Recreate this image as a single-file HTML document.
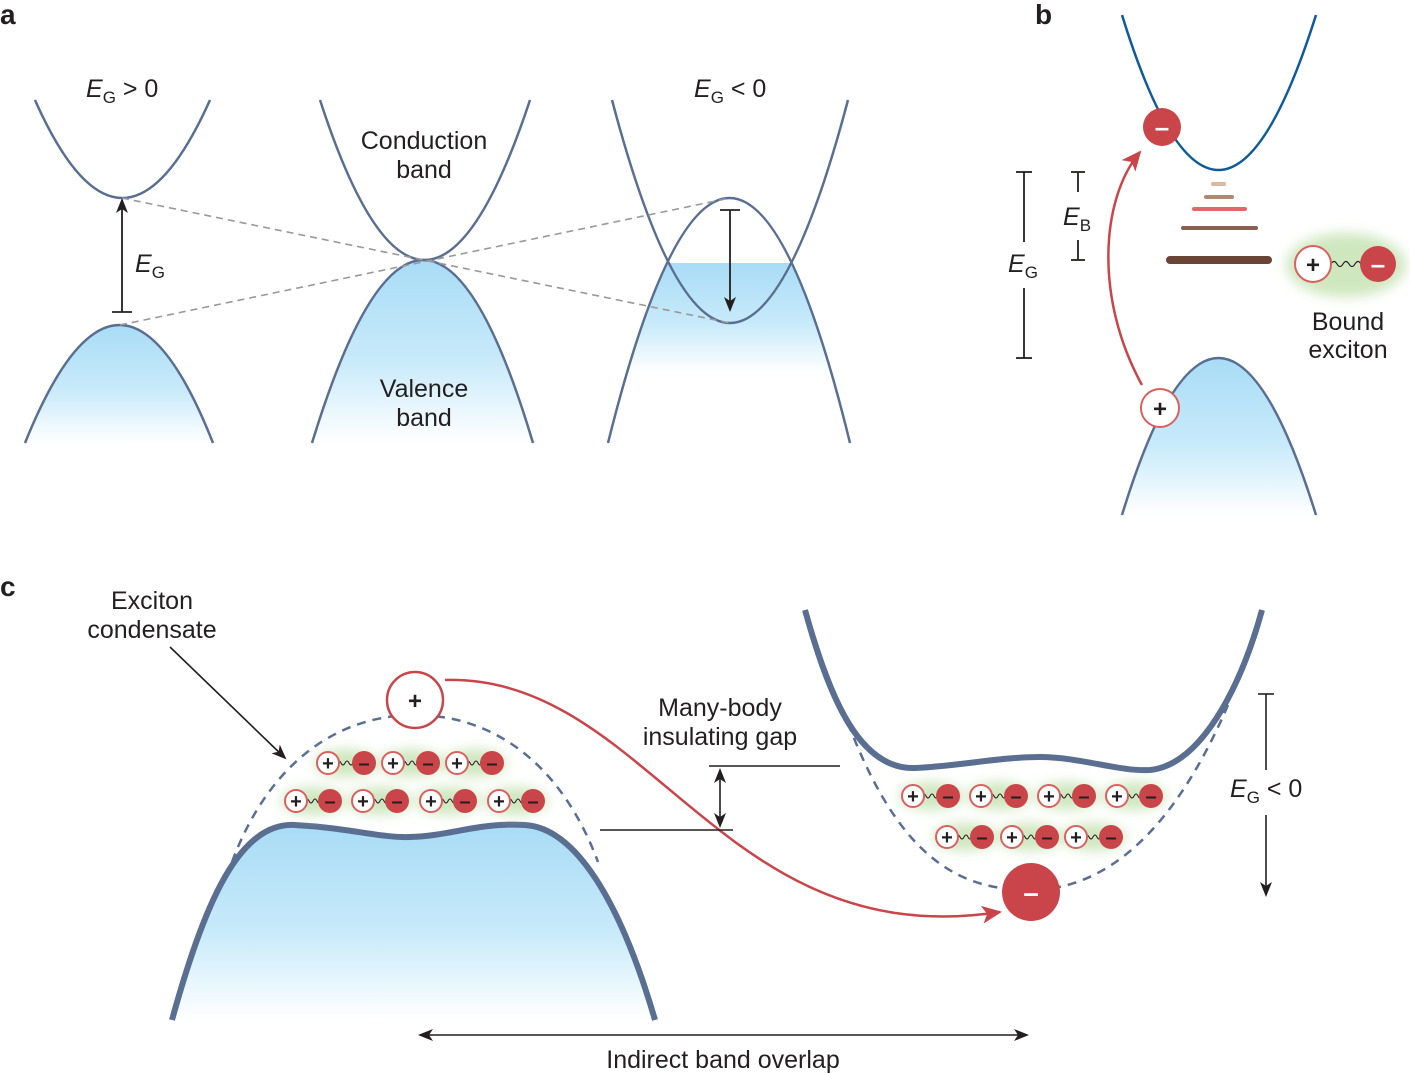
<!DOCTYPE html><html><head><style>body{margin:0;background:#fff}svg{display:block}text{font-family:"Liberation Sans",sans-serif;fill:#231f20}</style></head><body>
<svg width="1410" height="1074" viewBox="0 0 1410 1074" xmlns="http://www.w3.org/2000/svg">
<defs>
<linearGradient id="bl" x1="0" y1="0" x2="0" y2="1"><stop offset="0" stop-color="#a8dcf5"/><stop offset="0.55" stop-color="#c8eafa"/><stop offset="1" stop-color="#fff"/></linearGradient>
<filter id="bf" x="-50%" y="-100%" width="200%" height="300%"><feGaussianBlur stdDeviation="6"/></filter>
<marker id="ak" markerWidth="16" markerHeight="14" refX="13" refY="7" orient="auto" markerUnits="userSpaceOnUse"><path d="M0,1 L15,7 L0,13 L4,7z" fill="#231f20"/></marker>
<marker id="ar" markerWidth="22" markerHeight="22" refX="18" refY="11" orient="auto" markerUnits="userSpaceOnUse"><path d="M0,2 L20,11 L0,20 L5,11z" fill="#c9454a"/></marker>
<clipPath id="v3"><path d="M608,443 Q730,-47 850,443Z"/></clipPath>
</defs>
<text x="0" y="24" font-size="28" font-weight="bold">a</text>
<text x="1035" y="24" font-size="28" font-weight="bold">b</text>
<text x="0" y="596" font-size="28" font-weight="bold">c</text>
<g fill="none" stroke="#5a6e92" stroke-width="2.5">
<path d="M25,443 Q120,207 213,443Z" fill="url(#bl)" stroke="none"/>
<path d="M25,443 Q120,207 213,443"/>
<path d="M35,100 Q122,296 210,100"/>
<path d="M312,443 Q424,77 533,443Z" fill="url(#bl)" stroke="none"/>
<path d="M312,443 Q424,77 533,443"/>
<path d="M320,100 Q424,420 530,100"/>
<rect x="600" y="263" width="260" height="110" fill="url(#bl)" stroke="none" clip-path="url(#v3)"/>
<path d="M608,443 Q730,-47 850,443"/>
<path d="M612,100 Q730,546 848,100"/>
</g>
<g stroke="#999" stroke-width="1.6" stroke-dasharray="7,5"><line x1="122" y1="198" x2="730" y2="323"/><line x1="120" y1="325" x2="730" y2="198"/></g>
<g stroke="#231f20" stroke-width="1.8">
<line x1="122" y1="312" x2="122" y2="200" marker-end="url(#ak)"/><line x1="112" y1="312" x2="132" y2="312"/>
<line x1="730" y1="210" x2="730" y2="310" marker-end="url(#ak)"/><line x1="720" y1="210" x2="740" y2="210"/>
</g>
<text x="86" y="97" font-size="25"><tspan font-style="italic">E</tspan><tspan font-size="17" dy="6">G</tspan><tspan dy="-6"> &gt; 0</tspan></text>
<text x="694" y="97" font-size="25"><tspan font-style="italic">E</tspan><tspan font-size="17" dy="6">G</tspan><tspan dy="-6"> &lt; 0</tspan></text>
<text x="135" y="272" font-size="25"><tspan font-style="italic">E</tspan><tspan font-size="17" dy="6">G</tspan></text>
<text x="424" y="149" font-size="25" text-anchor="middle">Conduction</text><text x="424" y="178" font-size="25" text-anchor="middle">band</text>
<text x="424" y="397" font-size="25" text-anchor="middle">Valence</text><text x="424" y="426" font-size="25" text-anchor="middle">band</text>
<!-- b -->
<path d="M1122,515 Q1218,201 1316,515Z" fill="url(#bl)"/>
<path d="M1122,515 Q1218,201 1316,515" fill="none" stroke="#5a6e92" stroke-width="2.5"/>
<path d="M1122,15 Q1218,325 1316,15" fill="none" stroke="#0f5a9a" stroke-width="2.5"/>
<g stroke-linecap="round"><line x1="1170" y1="260" x2="1268" y2="260" stroke="#6a4535" stroke-width="8"/><line x1="1183" y1="228" x2="1256" y2="228" stroke="#8a6050" stroke-width="4"/><line x1="1194" y1="209" x2="1245" y2="209" stroke="#e06868" stroke-width="4"/><line x1="1206" y1="197" x2="1232" y2="197" stroke="#b08a70" stroke-width="4"/><line x1="1213" y1="184" x2="1224" y2="184" stroke="#dcb8a0" stroke-width="4"/></g>
<g stroke="#231f20" stroke-width="1.8"><line x1="1024" y1="172" x2="1024" y2="242"/><line x1="1024" y1="288" x2="1024" y2="358"/><line x1="1016" y1="172" x2="1032" y2="172"/><line x1="1016" y1="358" x2="1032" y2="358"/>
<line x1="1078" y1="172" x2="1078" y2="192"/><line x1="1078" y1="240" x2="1078" y2="260"/><line x1="1071" y1="172" x2="1085" y2="172"/><line x1="1071" y1="260" x2="1085" y2="260"/></g>
<text x="1008" y="272" font-size="25"><tspan font-style="italic">E</tspan><tspan font-size="17" dy="6">G</tspan></text>
<text x="1063" y="225" font-size="25"><tspan font-style="italic">E</tspan><tspan font-size="17" dy="6">B</tspan></text>
<path d="M1142,385 C1095,300 1100,200 1140,152" fill="none" stroke="#c9454a" stroke-width="2.5" marker-end="url(#ar)"/>
<circle cx="1162" cy="127" r="19" fill="#c9454a"/><text x="1162" y="136" font-size="26" font-weight="bold" text-anchor="middle" style="fill:#fff">–</text>
<circle cx="1160" cy="408" r="19" fill="#fff" stroke="#d9605f" stroke-width="2"/><text x="1160" y="417" font-size="24" font-weight="bold" text-anchor="middle">+</text>
<ellipse cx="1346" cy="265" rx="60" ry="32" fill="#cfe7bf" filter="url(#bf)"/>
<path d="M1331,264 q3,-5 6,0 t6,0 t6,0 t6,0 t6,0" fill="none" stroke="#231f20" stroke-width="1.2"/>
<circle cx="1313" cy="264" r="18" fill="#fff" stroke="#d9605f" stroke-width="2"/><text x="1313" y="273" font-size="24" font-weight="bold" text-anchor="middle">+</text>
<circle cx="1378" cy="264" r="18" fill="#c9454a"/><text x="1378" y="273" font-size="26" font-weight="bold" text-anchor="middle" style="fill:#fff">–</text>
<text x="1348" y="330" font-size="25" text-anchor="middle">Bound</text><text x="1348" y="358" font-size="25" text-anchor="middle">exciton</text>
<!-- c -->
<path d="M172,1020 C205,900 240,822 295,825 C350,828 380,838 410,837 C450,836 480,822 525,825 C575,828 620,900 655,1020Z" fill="url(#bl)"/>
<path d="M172,1020 C205,900 240,822 295,825 C350,828 380,838 410,837 C450,836 480,822 525,825 C575,828 620,900 655,1020" fill="none" stroke="#5a6e92" stroke-width="6"/>
<path d="M232,862 C270,760 340,715 415,715 C490,715 560,760 598,862" fill="none" stroke="#5a6e92" stroke-width="2.5" stroke-dasharray="9,7"/>
<path d="M805,610 C830,700 860,770 915,768 C960,766 1000,757 1040,757 C1080,757 1120,772 1150,770 C1200,765 1240,690 1262,610" fill="none" stroke="#5a6e92" stroke-width="6"/>
<path d="M848,723 C900,860 960,890 1030,890 C1100,890 1170,840 1228,705" fill="none" stroke="#5a6e92" stroke-width="2.5" stroke-dasharray="9,7"/>
<g fill="#cfe7bf" filter="url(#bf)">
<ellipse cx="346" cy="763" rx="32" ry="14"/><ellipse cx="411" cy="763" rx="32" ry="14"/><ellipse cx="475" cy="763" rx="32" ry="14"/>
<ellipse cx="313" cy="801" rx="32" ry="14"/><ellipse cx="380" cy="801" rx="32" ry="14"/><ellipse cx="448" cy="801" rx="32" ry="14"/><ellipse cx="516" cy="801" rx="32" ry="14"/>
<ellipse cx="931" cy="796" rx="32" ry="14"/><ellipse cx="999" cy="796" rx="32" ry="14"/><ellipse cx="1067" cy="796" rx="32" ry="14"/><ellipse cx="1134" cy="796" rx="32" ry="14"/>
<ellipse cx="965" cy="837" rx="32" ry="14"/><ellipse cx="1030" cy="837" rx="32" ry="14"/><ellipse cx="1094" cy="837" rx="32" ry="14"/>
</g>
<g font-size="20" font-weight="bold" text-anchor="middle">
<g stroke="#231f20" stroke-width="1" fill="none">
<path d="M337,763 q2,-4 4,0 t4,0 t4,0 t4,0"/><path d="M402,763 q2,-4 4,0 t4,0 t4,0 t4,0"/><path d="M466,763 q2,-4 4,0 t4,0 t4,0 t4,0"/>
<path d="M305,801 q2,-4 4,0 t4,0 t4,0 t4,0"/><path d="M372,801 q2,-4 4,0 t4,0 t4,0 t4,0"/><path d="M440,801 q2,-4 4,0 t4,0 t4,0 t4,0"/><path d="M508,801 q2,-4 4,0 t4,0 t4,0 t4,0"/>
<path d="M922,796 q2,-4 4,0 t4,0 t4,0 t4,0"/><path d="M990,796 q2,-4 4,0 t4,0 t4,0 t4,0"/><path d="M1058,796 q2,-4 4,0 t4,0 t4,0 t4,0"/><path d="M1126,796 q2,-4 4,0 t4,0 t4,0 t4,0"/>
<path d="M956,837 q2,-4 4,0 t4,0 t4,0 t4,0"/><path d="M1021,837 q2,-4 4,0 t4,0 t4,0 t4,0"/><path d="M1085,837 q2,-4 4,0 t4,0 t4,0 t4,0"/>
</g>
<g fill="#fff" stroke="#d9605f" stroke-width="2">
<circle cx="328" cy="763" r="11"/><circle cx="393" cy="763" r="11"/><circle cx="457" cy="763" r="11"/>
<circle cx="296" cy="801" r="11"/><circle cx="363" cy="801" r="11"/><circle cx="431" cy="801" r="11"/><circle cx="499" cy="801" r="11"/>
<circle cx="913" cy="796" r="11"/><circle cx="981" cy="796" r="11"/><circle cx="1049" cy="796" r="11"/><circle cx="1117" cy="796" r="11"/>
<circle cx="947" cy="837" r="11"/><circle cx="1012" cy="837" r="11"/><circle cx="1076" cy="837" r="11"/>
</g>
<g fill="#c9454a">
<circle cx="364" cy="763" r="12"/><circle cx="428" cy="763" r="12"/><circle cx="492" cy="763" r="12"/>
<circle cx="330" cy="801" r="12"/><circle cx="397" cy="801" r="12"/><circle cx="465" cy="801" r="12"/><circle cx="533" cy="801" r="12"/>
<circle cx="948" cy="796" r="12"/><circle cx="1016" cy="796" r="12"/><circle cx="1084" cy="796" r="12"/><circle cx="1151" cy="796" r="12"/>
<circle cx="982" cy="837" r="12"/><circle cx="1047" cy="837" r="12"/><circle cx="1111" cy="837" r="12"/>
</g>
<text x="328" y="770">+</text><text x="393" y="770">+</text><text x="457" y="770">+</text>
<text x="296" y="808">+</text><text x="363" y="808">+</text><text x="431" y="808">+</text><text x="499" y="808">+</text>
<text x="913" y="803">+</text><text x="981" y="803">+</text><text x="1049" y="803">+</text><text x="1117" y="803">+</text>
<text x="947" y="844">+</text><text x="1012" y="844">+</text><text x="1076" y="844">+</text>
<g style="fill:#fff">
<text x="364" y="770">–</text><text x="428" y="770">–</text><text x="492" y="770">–</text>
<text x="330" y="808">–</text><text x="397" y="808">–</text><text x="465" y="808">–</text><text x="533" y="808">–</text>
<text x="948" y="803">–</text><text x="1016" y="803">–</text><text x="1084" y="803">–</text><text x="1151" y="803">–</text>
<text x="982" y="844">–</text><text x="1047" y="844">–</text><text x="1111" y="844">–</text>
</g>
</g>
<path d="M445,680 C650,675 720,955 1000,912" fill="none" stroke="#c9454a" stroke-width="2.5" marker-end="url(#ar)"/>
<circle cx="415" cy="700" r="28" fill="#fff" stroke="#c9454a" stroke-width="2.5"/><text x="415" y="709" font-size="24" font-weight="bold" text-anchor="middle">+</text>
<circle cx="1031" cy="892" r="29" fill="#c9454a"/><text x="1031" y="902" font-size="28" font-weight="bold" text-anchor="middle" style="fill:#fff">–</text>
<g stroke="#231f20" stroke-width="1.6">
<line x1="600" y1="830" x2="733" y2="830"/><line x1="709" y1="766" x2="840" y2="766"/>
<line x1="720" y1="795" x2="720" y2="770" marker-end="url(#ak)"/><line x1="720" y1="795" x2="720" y2="826" marker-end="url(#ak)"/>
<line x1="1266" y1="694" x2="1266" y2="770"/><line x1="1258" y1="694" x2="1274" y2="694"/><line x1="1266" y1="815" x2="1266" y2="895" marker-end="url(#ak)"/>
<line x1="700" y1="1035" x2="420" y2="1035" marker-end="url(#ak)"/><line x1="700" y1="1035" x2="1027" y2="1035" marker-end="url(#ak)"/>
<line x1="170" y1="647" x2="285" y2="758" marker-end="url(#ak)"/>
</g>
<text x="1230" y="797" font-size="25"><tspan font-style="italic">E</tspan><tspan font-size="17" dy="6">G</tspan><tspan dy="-6"> &lt; 0</tspan></text>
<text x="720" y="716" font-size="25" text-anchor="middle">Many-body</text><text x="720" y="745" font-size="25" text-anchor="middle">insulating gap</text>
<text x="152" y="609" font-size="25" text-anchor="middle">Exciton</text><text x="152" y="638" font-size="25" text-anchor="middle">condensate</text>
<text x="723" y="1068" font-size="25" text-anchor="middle">Indirect band overlap</text>
</svg></body></html>
